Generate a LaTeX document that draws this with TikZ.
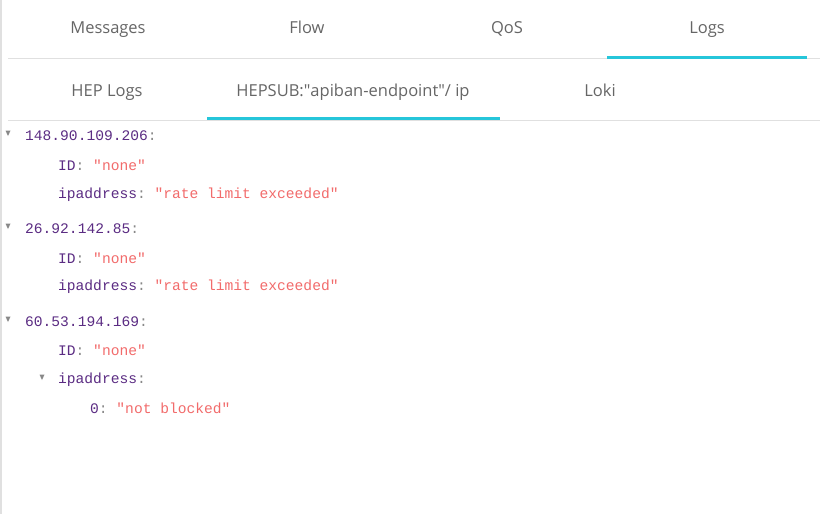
\documentclass[tikz,border=0pt]{standalone}
\usepackage{fontspec}
\setmainfont{Open Sans}
\setmonofont{Liberation Mono}
\usetikzlibrary{positioning}
\definecolor{tabText}{HTML}{666666}
\definecolor{tabLine}{HTML}{26C6DA}
\definecolor{ruleGray}{HTML}{E0E0E0}
\definecolor{keyPurple}{HTML}{5B2C83}
\definecolor{valRed}{HTML}{F26B6B}
\definecolor{colonGray}{HTML}{888888}
\tikzset{
  tab/.style={font={\fontsize{16.5}{19}\selectfont}, text=tabText, inner sep=0pt, anchor=base},
  entry/.style={font={\ttfamily\fontsize{14.6}{16}\selectfont}, anchor=west, inner sep=0pt},
  toggle/.style={fill=colonGray, draw=none},
}
\newcommand{\kv}[2]{\textcolor{keyPurple}{#1}\textcolor{colonGray}{:}\ifx&#2&\else\ \textcolor{valRed}{#2}\fi}
\begin{document}
\begin{tikzpicture}[x=1pt,y=-1pt]
  \useasboundingbox (0,0) rectangle (820,514);
  \fill[white] (0,0) rectangle (820,514);
  \draw[ruleGray, line width=1.5pt] (1,0) -- (1,514);
  % top tabs
  \node[tab] (msg) at (108,34) {Messages};
  \node[tab] (flow) at (307,34) {Flow};
  \node[tab] (qos) at (507,34) {QoS};
  \node[tab] (logs) at (707,34) {Logs};
  \draw[ruleGray] (8,58.5) -- (820,58.5);
  \fill[tabLine] (607,55.5) rectangle (807,58.5);
  % sub tabs
  \node[tab] (hep) at (107,96) {HEP Logs};
  \node[tab] (sub) at (353,96) {HEPSUB:\textquotedbl apiban-endpoint\textquotedbl/ ip};
  \node[tab] (loki) at (600,96) {Loki};
  \draw[ruleGray] (8,120.5) -- (820,120.5);
  \fill[tabLine] (207,117) rectangle (500,120);
  % tree
  \foreach \tx/\ty in {8/133, 8/226, 8/319, 42/377}
    \fill[toggle] (\tx-2.5,\ty-2.5) -- (\tx+2.5,\ty-2.5) -- (\tx,\ty+3) -- cycle;
  \node[entry] (ip1) at (25,136) {\kv{148.90.109.206}{}};
  \node[entry] (id1) at (58,165) {\kv{ID}{"none"}};
  \node[entry] (ad1) at (58,195) {\kv{ipaddress}{"rate limit exceeded"}};
  \node[entry] (ip2) at (25,229) {\kv{26.92.142.85}{}};
  \node[entry] (id2) at (58,258) {\kv{ID}{"none"}};
  \node[entry] (ad2) at (58,287) {\kv{ipaddress}{"rate limit exceeded"}};
  \node[entry] (ip3) at (25,322) {\kv{60.53.194.169}{}};
  \node[entry] (id3) at (58,350) {\kv{ID}{"none"}};
  \node[entry] (ad3) at (58,380) {\kv{ipaddress}{}};
  \node[entry] (ad30) at (90,408) {\kv{0}{"not blocked"}};
\end{tikzpicture}
\end{document}
